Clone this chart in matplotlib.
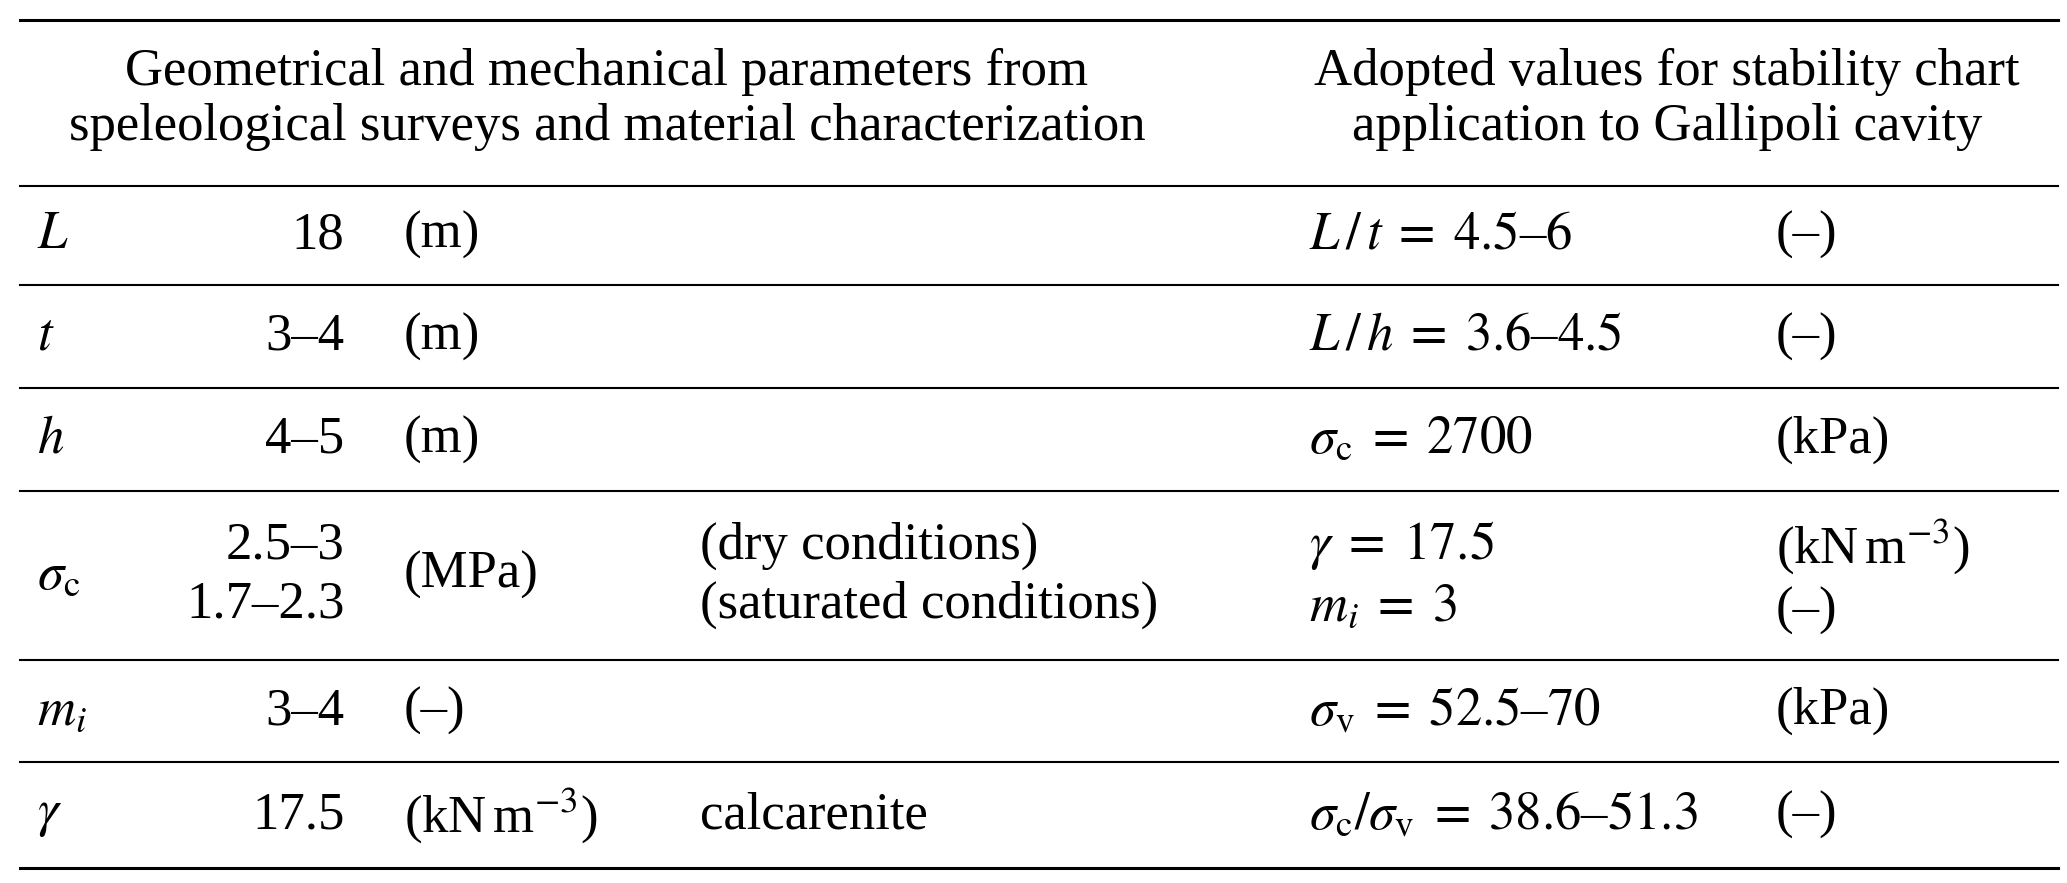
import matplotlib
matplotlib.use("Agg")
import matplotlib.pyplot as plt

plt.rcParams['font.family'] = ['Liberation Serif', 'DejaVu Serif']
plt.rcParams['mathtext.fontset'] = 'stix'

header_left = "Geometrical and mechanical parameters from\nspeleological surveys and material characterization"
header_right = "Adopted values for stability chart\napplication to Gallipoli cavity"
symbols = [r"$L$", r"$t$", r"$h$", r"$\sigma_\mathrm{c}$", r"$m_i$", r"$\gamma$"]
values = ["18", "3–4", "4–5", "2.5–3\n1.7–2.3", "3–4", "17.5"]
units = ["(m)", "(m)", "(m)", "(MPa)", "(–)", r"(kN$\,$m$^{-3}$)"]
notes = ["", "", "", "(dry conditions)\n(saturated conditions)", "", "calcarenite"]
adopted = [r"$L\,/\,t\;=\;4.5$–$6$", r"$L\,/\,h\;=\;3.6$–$4.5$", r"$\sigma_\mathrm{c}\;=\;2700$",
           r"$\gamma\;=\;17.5$" + "\n" + r"$m_i\;=\;3$", r"$\sigma_\mathrm{v}\;=\;52.5$–$70$",
           r"$\sigma_\mathrm{c}/\sigma_\mathrm{v}\;=\;38.6$–$51.3$"]
adopted_units = ["(–)", "(–)", "(kPa)", r"(kN$\,$m$^{-3}$)" + "\n(–)", "(kPa)", "(–)"]

W, H = 1560.0, 666.0
fig = plt.figure(figsize=(20.67, 8.83), dpi=100)
ax = fig.add_axes([0, 0, 1, 1])
ax.set_xlim(0, W); ax.set_ylim(H, 0); ax.axis('off')

fs = 38
lines_y = [15, 140, 215, 293, 370, 498, 575, 655]
for i, y in enumerate(lines_y):
    lw = 2.2 if i in (0, len(lines_y) - 1) else 1.5
    ax.plot([15, 1553], [y, y], color='black', lw=lw)

ax.text(458, 75, header_left, ha='center', va='center', fontsize=fs, linespacing=1.2)
ax.text(1258, 75, header_right, ha='center', va='center', fontsize=fs, linespacing=1.2)

for i in range(len(symbols)):
    yc = (lines_y[i + 1] + lines_y[i + 2]) / 2
    ax.text(28, yc, symbols[i], ha='left', va='center', fontsize=fs)
    ax.text(260, yc, values[i], ha='right', va='center', fontsize=fs, linespacing=1.3)
    ax.text(305, yc, units[i], ha='left', va='center', fontsize=fs)
    ax.text(528, yc, notes[i], ha='left', va='center', fontsize=fs, linespacing=1.3)
    ax.text(988, yc, adopted[i], ha='left', va='center', fontsize=fs, linespacing=1.3)
    ax.text(1340, yc, adopted_units[i], ha='left', va='center', fontsize=fs, linespacing=1.3)

fig.savefig("out.png", dpi=100)
